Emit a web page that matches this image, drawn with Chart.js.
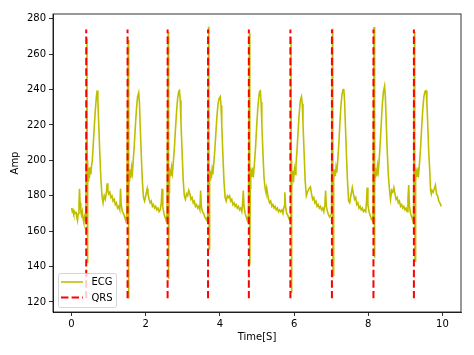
<!DOCTYPE html>
<html>
<head>
<meta charset="utf-8">
<script src="https://cdn.jsdelivr.net/npm/chart.js@4.4.1/dist/chart.umd.min.js"></script>
<style>
  html, body { margin: 0; padding: 0; background: #ffffff; }
  #c { display: block; }
</style>
</head>
<body>
<canvas id="c" width="474" height="355"></canvas>
<script>
// ---- data ----
const seriesLabels = ['ECG', 'QRS'];
const xTickValues = [0, 2, 4, 6, 8, 10];
const yTickValues = [120, 140, 160, 180, 200, 220, 240, 260, 280];
const qrsTime = [0.396, 1.51, 2.59, 3.68, 4.78, 5.90, 7.02, 8.14, 9.23];
const qrsLow = 122;
const qrsHigh = 274;

const ecgTime = [
  0.00,0.02,0.04,0.06,0.08,0.10,0.12,0.14,0.16,0.18,0.20,0.215,0.23,0.25,0.27,0.29,0.31,0.33,0.35,0.37,0.385,
  0.410,0.415,0.422,0.430,0.438,0.448,0.455,0.465,0.48,0.50,0.52,0.54,0.56,0.58,0.61,0.64,0.67,0.69,0.71,0.73,0.76,0.79,0.82,0.85,0.88,0.91,0.94,0.96,0.98,1.00,1.03,1.06,1.09,1.12,1.15,1.18,1.21,1.24,1.27,1.30,1.32,1.34,1.37,1.40,1.43,1.46,1.49,
  1.525,1.532,1.540,1.548,1.556,1.565,1.58,1.60,1.62,1.64,1.66,1.69,1.72,1.75,1.78,1.81,1.83,1.85,1.88,1.91,1.94,1.97,2.00,2.02,2.04,2.06,2.09,2.12,2.15,2.18,2.21,2.24,2.27,2.30,2.33,2.36,2.39,2.42,2.44,2.46,2.49,2.52,2.55,2.575,
  2.605,2.612,2.620,2.628,2.636,2.645,2.66,2.68,2.70,2.72,2.74,2.77,2.80,2.83,2.86,2.89,2.91,2.93,2.95,2.98,3.01,3.04,3.07,3.10,3.13,3.16,3.19,3.22,3.25,3.28,3.31,3.34,3.37,3.40,3.43,3.46,3.48,3.50,3.53,3.56,3.59,3.62,3.65,3.67,
  3.695,3.702,3.710,3.718,3.726,3.735,3.75,3.77,3.79,3.81,3.83,3.86,3.89,3.92,3.95,3.98,4.01,4.03,4.05,4.08,4.11,4.14,4.17,4.20,4.23,4.26,4.29,4.32,4.35,4.38,4.41,4.44,4.47,4.50,4.53,4.56,4.59,4.61,4.63,4.65,4.68,4.71,4.74,4.77,
  4.795,4.802,4.810,4.818,4.826,4.835,4.85,4.87,4.89,4.91,4.93,4.96,4.99,5.02,5.05,5.07,5.09,5.11,5.13,5.16,5.19,5.22,5.24,5.26,5.28,5.31,5.34,5.37,5.40,5.43,5.46,5.49,5.52,5.55,5.58,5.61,5.64,5.67,5.70,5.73,5.75,5.77,5.80,5.83,5.86,5.89,
  5.915,5.922,5.930,5.938,5.946,5.955,5.97,5.99,6.01,6.03,6.05,6.08,6.11,6.14,6.17,6.20,6.22,6.24,6.27,6.30,6.33,6.36,6.40,6.44,6.47,6.50,6.53,6.56,6.59,6.62,6.65,6.68,6.71,6.74,6.77,6.80,6.83,6.85,6.87,6.90,6.93,6.96,6.99,7.01,
  7.035,7.042,7.050,7.058,7.066,7.075,7.09,7.11,7.13,7.15,7.17,7.20,7.23,7.26,7.29,7.32,7.34,7.36,7.38,7.41,7.44,7.47,7.50,7.53,7.57,7.60,7.63,7.66,7.69,7.72,7.75,7.78,7.81,7.84,7.87,7.90,7.93,7.95,7.97,7.99,8.02,8.05,8.08,8.11,8.13,
  8.155,8.162,8.170,8.178,8.186,8.195,8.21,8.23,8.25,8.27,8.29,8.32,8.35,8.38,8.41,8.44,8.46,8.48,8.51,8.54,8.57,8.60,8.63,8.66,8.69,8.72,8.75,8.78,8.81,8.84,8.87,8.90,8.93,8.96,8.99,9.02,9.05,9.07,9.09,9.11,9.14,9.17,9.20,9.22,
  9.245,9.252,9.260,9.268,9.276,9.285,9.30,9.32,9.34,9.36,9.38,9.41,9.44,9.47,9.50,9.53,9.56,9.58,9.60,9.63,9.66,9.68,9.70,9.72,9.75,9.78,9.81,9.84,9.87,9.90,9.93,9.97
];

const ecgAmp = [
  173,171,172,170,171,170,171,168,166,170,175,184,176,171,169,171,167,165,168,166,169,
  230,269,200,142,185,196,188,194,190,196,192,197,200,207,218,228,236,239.5,234,222,205,190,180,176,180,178,182,187,183,181,182,179,180,177,178,175,176,173,174,172,184,175,171,170,168,166,169,
  268,200,122,180,194,188,195,190,196,193,199,208,219,229,236,238.3,233,220,203,188,179,177,180,182,184,181,178,176,177,174,175,173,174,172,173,171,172,176,184,174,170,168,166,169,
  272.5,200,133,182,196,189,195,191,196,193,198,206,217,227,235,239,239.5,234,222,205,189,180,178,181,180,183,181,178,179,176,177,174,175,173,174,172,183,174,171,170,168,167,166,169,
  275.5,210,150,185,195,189,194,190,195,192,197,205,215,225,232,235,236,231,220,203,188,179,177,180,179,180,177,178,175,176,174,175,173,174,172,173,171,175,183,174,170,168,166,169,
  272,205,141,184,196,189,195,191,196,193,198,207,219,229,236,239,239.3,233,221,204,190,184,182,184.5,182,178,176,177,174,175,173,174,172,173,171,172,171,172,170,174,182,174,170,169,167,166,
  269.6,200,125,180,194,188,194,190,195,192,197,206,217,227,234,236,232,221,204,188,180,182,184,185,181,178,179,176,177,174,175,173,174,172,173,171,175,183,174,171,169,168,169,170,
  274.3,205,135,182,195,189,195,191,196,193,198,207,219,230,237,240,240.3,234,222,204,188,177,176,180,184.6,181,178,179,175,176,173,174,172,173,171,172,171,176,184.6,175,171,169,167,166,169,
  275.3,210,145,185,196,190,195,191,197,194,199,209,221,232,239,242,236,224,206,192,184,178,183,182,184.6,181,178,179,176,177,174,175,173,174,172,173,171,178,186,174,170,168,166,169,
  272.5,205,143,184,196,189,195,191,196,193,198,207,219,229,236,239,239.3,233,222,205,193,183,181,183,182,184,186,181,180,177,176,174
];

// ---- build datasets from the arrays ----
const nEcg = Math.min(ecgTime.length, ecgAmp.length);
if (ecgTime.length !== ecgAmp.length) console.error('length mismatch', ecgTime.length, ecgAmp.length);
const ecgPoints = [];
for (let i = 0; i < nEcg; i++) ecgPoints.push({ x: ecgTime[i], y: ecgAmp[i] });

const qrsPoints = [];
qrsTime.forEach(q => {
  qrsPoints.push({ x: q, y: qrsLow }, { x: q, y: qrsHigh }, { x: q, y: null });
});

const FONT = 'DejaVu Sans';
const ECG_COLOR = '#bfbf00';
const QRS_COLOR = '#ff0000';
const QRS_DASH = [7.4, 3.2];

const framePlugin = {
  id: 'frame',
  afterDatasetsDraw(chart) {
    const { ctx, chartArea: a } = chart;
    ctx.save();
    ctx.strokeStyle = '#000';
    ctx.lineWidth = 0.8;
    ctx.strokeRect(a.left, a.top, a.right - a.left, a.bottom - a.top);
    ctx.restore();
  }
};

const legendPlugin = {
  id: 'mplLegend',
  afterDraw(chart) {
    const { ctx, chartArea: a } = chart;
    const x0 = a.left + 5.5, y0 = a.bottom - 38.5, w = 58, h = 34;
    ctx.save();
    ctx.beginPath();
    const r = 2;
    ctx.moveTo(x0 + r, y0);
    ctx.lineTo(x0 + w - r, y0); ctx.quadraticCurveTo(x0 + w, y0, x0 + w, y0 + r);
    ctx.lineTo(x0 + w, y0 + h - r); ctx.quadraticCurveTo(x0 + w, y0 + h, x0 + w - r, y0 + h);
    ctx.lineTo(x0 + r, y0 + h); ctx.quadraticCurveTo(x0, y0 + h, x0, y0 + h - r);
    ctx.lineTo(x0, y0 + r); ctx.quadraticCurveTo(x0, y0, x0 + r, y0);
    ctx.closePath();
    ctx.fillStyle = 'rgba(255,255,255,0.8)';
    ctx.fill();
    ctx.strokeStyle = '#cccccc';
    ctx.lineWidth = 0.8;
    ctx.stroke();

    const lx0 = x0 + 2.5, lx1 = x0 + 24.5;
    const rows = [y0 + 8.5, y0 + 24];
    ctx.beginPath();
    ctx.strokeStyle = ECG_COLOR; ctx.lineWidth = 1.6; ctx.setLineDash([]);
    ctx.moveTo(lx0, rows[0]); ctx.lineTo(lx1, rows[0]); ctx.stroke();
    ctx.beginPath();
    ctx.strokeStyle = QRS_COLOR; ctx.lineWidth = 2; ctx.setLineDash(QRS_DASH);
    ctx.moveTo(lx0, rows[1]); ctx.lineTo(lx1, rows[1]); ctx.stroke();
    ctx.setLineDash([]);

    ctx.fillStyle = '#000';
    ctx.font = '10px "' + FONT + '"';
    ctx.textBaseline = 'middle';
    ctx.textAlign = 'left';
    ctx.fillText(seriesLabels[0], x0 + 33, rows[0] + 0.5);
    ctx.fillText(seriesLabels[1], x0 + 33, rows[1] + 0.5);
    ctx.restore();
  }
};

const tickFont = { family: FONT, size: 10 };

new Chart(document.getElementById('c'), {
  type: 'line',
  data: {
    datasets: [
      {
        label: seriesLabels[0],
        data: ecgPoints,
        borderColor: ECG_COLOR,
        borderWidth: 1.6,
        pointRadius: 0,
        tension: 0,
        order: 2
      },
      {
        label: seriesLabels[1],
        data: qrsPoints,
        borderColor: QRS_COLOR,
        borderWidth: 2,
        borderDash: QRS_DASH,
        pointRadius: 0,
        tension: 0,
        spanGaps: false,
        order: 1
      }
    ]
  },
  options: {
    responsive: false,
    animation: false,
    devicePixelRatio: 1,
    layout: { padding: { left: 0, right: 13, top: 14, bottom: 0 } },
    plugins: { legend: { display: false }, tooltip: { enabled: false } },
    scales: {
      x: {
        type: 'linear',
        min: -0.5,
        max: 10.5,
        afterBuildTicks: s => { s.ticks = xTickValues.map(v => ({ value: v })); },
        afterFit: s => { s.height = 43; },
        grid: { display: true, drawOnChartArea: false, drawTicks: true, tickLength: 4, color: '#000', lineWidth: 0.8 },
        border: { display: true, color: '#000', width: 0.8 },
        ticks: { color: '#000', font: tickFont, padding: 2, maxRotation: 0, autoSkip: false },
        title: { display: true, text: 'Time[S]', color: '#000', font: tickFont, padding: { top: 0, bottom: 12 } }
      },
      y: {
        type: 'linear',
        min: 114.3,
        max: 282.7,
        afterBuildTicks: s => { s.ticks = yTickValues.map(v => ({ value: v })); },
        afterFit: s => { s.width = 53; },
        grid: { display: true, drawOnChartArea: false, drawTicks: true, tickLength: 4, color: '#000', lineWidth: 0.8 },
        border: { display: true, color: '#000', width: 0.8 },
        ticks: { color: '#000', font: tickFont, padding: 3, autoSkip: false },
        title: { display: true, text: 'Amp', color: '#000', font: tickFont, padding: { top: 9, bottom: 0 } }
      }
    }
  },
  plugins: [framePlugin, legendPlugin]
});
</script>
</body>
</html>
